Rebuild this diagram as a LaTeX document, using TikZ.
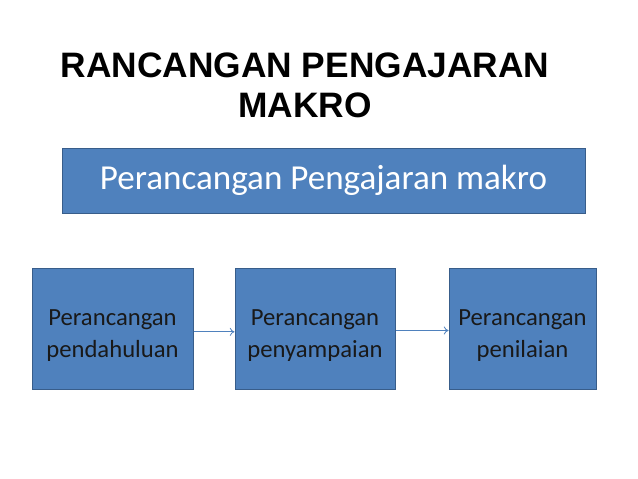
\documentclass[tikz,border=0pt]{standalone}
\usepackage{fontspec}
\setmainfont{Carlito}
\newfontfamily\titlefont{Liberation Sans}
\usetikzlibrary{arrows.meta}

\definecolor{boxfill}{RGB}{79,129,189}
\definecolor{boxline}{RGB}{56,93,138}
\definecolor{linkblue}{RGB}{79,129,189}

% lifts the first line so the two-line labels sit a bit low, as in the slide
\newcommand{\lowtext}{\rule{0pt}{22pt}}

\tikzset{every picture/.style={line width=0.75pt}}
\tikzset{
  planbox/.style={draw=boxline, fill=boxfill, line width=0.75pt, inner sep=0.75pt},
  smallbox/.style={planbox, align=center, font=\fontsize{18.5}{24}\selectfont, text=black!90},
  link/.style={draw=linkblue, line width=0.6pt, -{To[length=3.5pt,width=6pt]}}
}

\begin{document}
\begin{tikzpicture}[x=0.75pt,y=0.75pt,yscale=-1,xscale=1]
\useasboundingbox (0,0) rectangle (638,478);

% Title
\node (title) [anchor=north, inner sep=0pt, align=center, font=\titlefont\bfseries\fontsize{26.5}{30}\selectfont] at (305,52) {RANCANGAN PENGAJARAN\\MAKRO};

% Main box
\node (makro) [planbox, minimum width=392.25pt, minimum height=48.75pt, text=white, font=\fontsize{26.3}{30}\selectfont] at (323.5,180.5) {Perancangan Pengajaran makro};

% Three steps
\node (awal) [smallbox, minimum width=120.75pt, minimum height=90.75pt] at (112.5,328.5) {\lowtext Perancangan\\pendahuluan};
\node (sampai) [smallbox, minimum width=120pt, minimum height=90.75pt] at (315,328.5) {\lowtext Perancangan\\penyampaian};
\node (nilai) [smallbox, minimum width=110.25pt, minimum height=90.75pt] at (522.5,328.5) {\lowtext Perancangan\\penilaian};

% Links
\draw [link] ([yshift=2.5pt]awal.east) -- ([yshift=2.5pt]sampai.west);
\draw [link] ([yshift=1.5pt]sampai.east) -- ([yshift=1.5pt]nilai.west);

\end{tikzpicture}
\end{document}
